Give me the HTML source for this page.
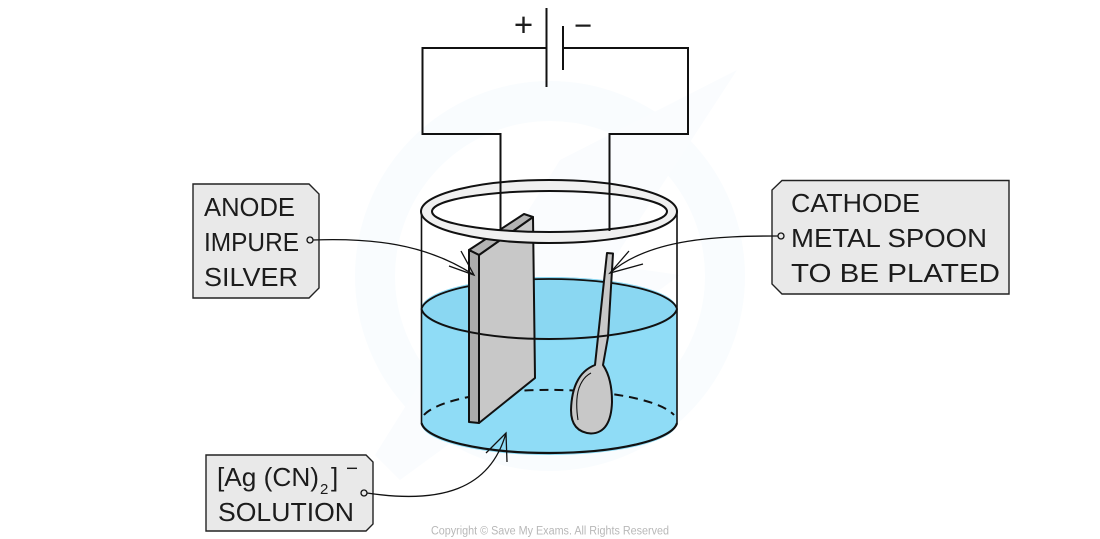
<!DOCTYPE html>
<html><head><meta charset="utf-8"><style>
html,body{margin:0;padding:0;background:#fff;width:1100px;height:539px;overflow:hidden}
svg{display:block}
text{font-family:"Liberation Sans",sans-serif;fill:#1c1c1c}
</style></head><body>
<svg width="1100" height="539" viewBox="0 0 1100 539" xmlns="http://www.w3.org/2000/svg">
<!-- watermark -->
<circle cx="550" cy="276" r="175" fill="none" stroke="#f9fcfe" stroke-width="40"/>
<path d="M737 70L560 160L375 455L610 265Z M610 265L680 275L400 480L375 455Z" fill="#fafcfe"/>
<!-- liquid -->
<path d="M421 309A128 32 0 0 1 677 309V423A128 32 0 0 1 421 423Z" fill="#8fdcf6"/>
<path d="M421 309A128 32 0 0 1 677 309A128 32 0 0 1 421 309Z" fill="#8ad7f2"/>
<!-- glass sides -->
<path d="M421.500 211V423M677 211V423" stroke="#111" stroke-width="1.600" fill="none"/>
<path d="M421.500 309A128 32 0 0 1 677 309" stroke="#111" stroke-width="1.800" fill="none"/>
<path d="M424 415A128 32 0 0 1 674 415" fill="none" stroke="#111" stroke-width="2" stroke-dasharray="9 6"/>
<path d="M421.500 423A128 32 0 0 0 677 423" stroke="#111" stroke-width="2.200" fill="none"/>
<!-- anode -->
<path d="M479 255L533 217L535 378L479 423Z" fill="#c8c8c8" stroke="#111" stroke-width="2" stroke-linejoin="round"/>
<path d="M469 250L524 214L533 217L479 255Z" fill="#b4b4b4" stroke="#111" stroke-width="2" stroke-linejoin="round"/>
<path d="M469 250L479 255V423L469 422Z" fill="#adadad" stroke="#111" stroke-width="2" stroke-linejoin="round"/>
<!-- spoon -->
<path d="M607 253L613 253.500L608 337L603 365Q612 378 612 402Q611 433 591 433.500Q571 432 571 410Q572 374 595 365L598 337Z" fill="#c8c8c8" stroke="#111" stroke-width="2" stroke-linejoin="round"/>
<path d="M578 420Q575 400 579 388Q583 377 591 373" fill="none" stroke="#111" stroke-width="1.100"/>
<!-- front surface -->
<path d="M421.500 309A128 32 0 0 0 677 309" stroke="#111" stroke-width="2" fill="none"/>
<!-- rim -->
<path fill-rule="evenodd" d="M421 211.500A128 31.500 0 1 0 677 211.500A128 31.500 0 1 0 421 211.500ZM432 211.500A117.500 20.500 0 1 0 667 211.500A117.500 20.500 0 1 0 432 211.500Z" fill="#f0f0f0" stroke="#111" stroke-width="2"/>
<!-- circuit -->
<path d="M546 48H422.500V134H500.500V229M563 48H688V134H609.500V231" fill="none" stroke="#111" stroke-width="2"/>
<path d="M546.500 8V87M563 26V70" stroke="#111" stroke-width="2" fill="none"/>
<text x="523.500" y="36" font-size="33" text-anchor="middle">+</text>
<text x="583" y="36" font-size="31" text-anchor="middle">−</text>
<!-- label boxes -->
<path d="M193 184H309L319 194V288L309 298H193Z" fill="#e9e9e9" stroke="#222" stroke-width="1.400"/>
<path d="M782 180.500H1009V294H782L772 284V190Z" fill="#e9e9e9" stroke="#222" stroke-width="1.400"/>
<path d="M206 455H366L373 462V524L366 531H206Z" fill="#e9e9e9" stroke="#222" stroke-width="1.400"/>
<!-- label text -->
<text x="204" y="216" font-size="26" textLength="91" lengthAdjust="spacingAndGlyphs">ANODE</text>
<text x="204" y="251" font-size="26" textLength="95" lengthAdjust="spacingAndGlyphs">IMPURE</text>
<text x="204" y="286" font-size="26" textLength="94" lengthAdjust="spacingAndGlyphs">SILVER</text>
<text x="791" y="212" font-size="26" textLength="129" lengthAdjust="spacingAndGlyphs">CATHODE</text>
<text x="791" y="247" font-size="26" textLength="196" lengthAdjust="spacingAndGlyphs">METAL SPOON</text>
<text x="791" y="282" font-size="26" textLength="209" lengthAdjust="spacingAndGlyphs">TO BE PLATED</text>
<text x="217" y="486" font-size="26" textLength="102" lengthAdjust="spacingAndGlyphs">[Ag (CN)</text>
<text x="320" y="494" font-size="15">2</text>
<text x="331" y="486" font-size="26">]</text>
<text x="346" y="475" font-size="20" textLength="12" lengthAdjust="spacingAndGlyphs">−</text>
<text x="218" y="521" font-size="26" textLength="136" lengthAdjust="spacingAndGlyphs">SOLUTION</text>
<!-- connectors -->
<g fill="none" stroke="#111" stroke-width="1.300">
<circle cx="310" cy="240" r="3"/>
<path d="M313 240C370 238 425 243 474 275"/>
<path d="M461 251L474 275L449 266"/>
<circle cx="781" cy="236" r="3"/>
<path d="M778 236C720 236 650 238 610 273"/>
<path d="M629 251L610 273L643 264"/>
<circle cx="364" cy="493" r="3"/>
<path d="M367 493C440 504 490 490 506 433"/>
<path d="M486 453L506 433L507 462"/>
</g>
<text x="431" y="534.500" font-size="11.500" textLength="238" lengthAdjust="spacingAndGlyphs" style="fill:#b8b8b8">Copyright © Save My Exams. All Rights Reserved</text>
</svg>
</body></html>
